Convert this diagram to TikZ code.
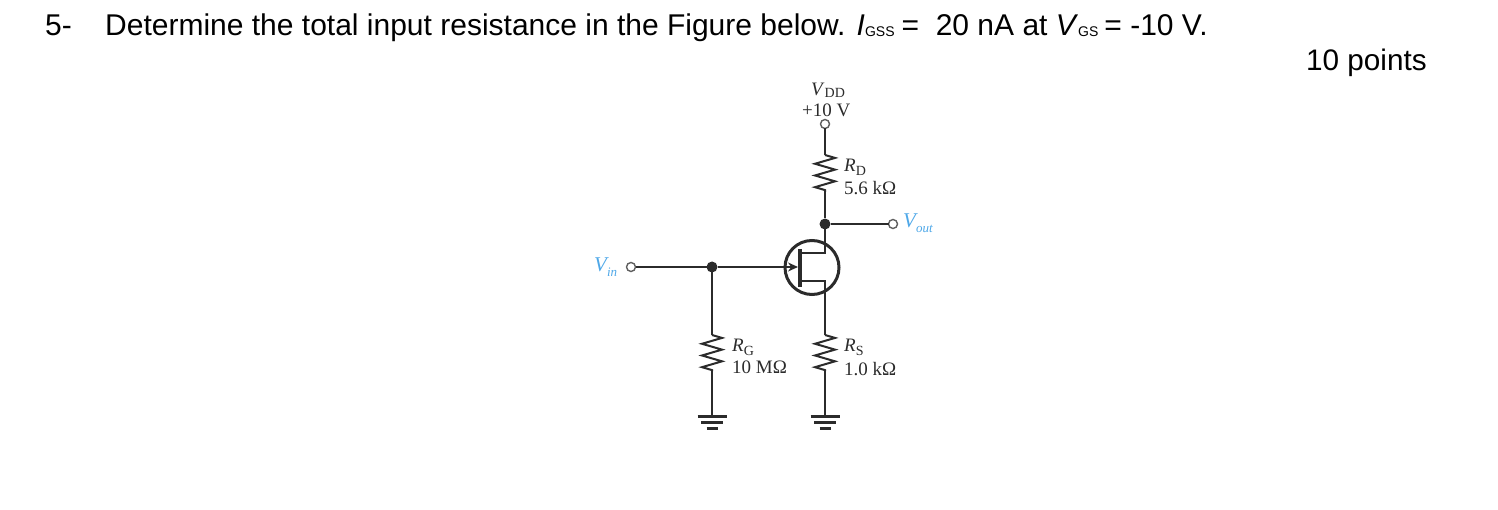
\documentclass[tikz,border=0pt]{standalone}
\usepackage{fontspec}
\setmainfont{Liberation Sans}
\newfontfamily\serifcirc{Liberation Serif}
\usetikzlibrary{arrows.meta,decorations.pathmorphing}
\definecolor{wirecol}{HTML}{2B2B2B}
\definecolor{voltblue}{HTML}{4FA8E8}
\tikzset{
  wire/.style={wirecol, line width=1.4pt},
  res/.style={wirecol, line width=2pt, decorate, decoration={zigzag,amplitude=10pt,segment length=11.7pt}},
  term/.style={circle, draw=wirecol!75, line width=1.4pt, fill=white, inner sep=0pt, outer sep=0pt, minimum size=9pt},
  junc/.style={circle, fill=wirecol, inner sep=0pt, outer sep=0pt, minimum size=11pt},
  title/.style={anchor=base west, inner sep=0pt, font=\fontsize{30}{32}\selectfont, text=black},
  lab/.style={anchor=base west, inner sep=0pt, font=\serifcirc\fontsize{19}{20}\selectfont, text=wirecol},
  vlab/.style={anchor=base west, inner sep=0pt, font=\serifcirc\itshape\fontsize{21}{20}\selectfont, text=voltblue}
}
\newcommand{\gnd}[1]{%
  \draw[wirecol, line width=3pt] (#1)+(-14.5,0)--+(14.5,0);
  \draw[wirecol, line width=3pt] (#1)+(-11,6)--+(11,6);
  \draw[wirecol, line width=3pt] (#1)+(-5.5,12)--+(5.5,12);
}
\newcommand{\qsub}[1]{\raisebox{-1pt}{\fontsize{14}{14}\selectfont #1}}
\newcommand{\lsub}[1]{\raisebox{-4pt}{\fontsize{14}{14}\selectfont #1}}
\newcommand{\vsub}[1]{\raisebox{-5pt}{\fontsize{13}{13}\selectfont #1}}
\begin{document}
\begin{tikzpicture}[x=1pt,y=-1pt]
\useasboundingbox (0,0) rectangle (1498,510);
% question text
\node[title] (qnum) at (45,36) {5-};
\node[title] (qtext) at (105,36) {Determine the total input resistance in the Figure below. \textit{I}\qsub{GSS}\kern7pt=\ \ 20 nA at \textit{V}\qsub{GS}\kern6pt= -10 V.};
\node[title,font=\fontsize{29.7}{32}\selectfont] (pts) at (1306,71) {10 points};
% points of the circuit
\node[term] (vdd) at (825,124) {};
\coordinate (rdtop) at (825,155);
\coordinate (rdbot) at (825,192);
\node[junc] (jd) at (825,224) {};
\node[term] (vout) at (893,224) {};
\node[term] (vin) at (631,267) {};
\node[junc] (jg) at (712,267) {};
\node[circle, draw=wirecol, line width=3pt, inner sep=0pt, minimum size=54pt] (jfet) at (812,267.5) {};
\coordinate (gate) at (800,267);
\coordinate (drn) at (800,253);
\coordinate (drnc) at (825,253);
\coordinate (src) at (800,281);
\coordinate (srcc) at (825,281);
\coordinate (rstop) at (825,335);
\coordinate (rsbot) at (825,371);
\coordinate (rgtop) at (712,335);
\coordinate (rgbot) at (712,371);
\coordinate (gs) at (825,416);
\coordinate (gg) at (712,416);
% wires
\draw[wire] (vdd)--(rdtop);
\draw[res] (rdtop)--(rdbot);
\draw[wire] (rdbot)--(jd);
\draw[wire] (jd)--(vout);
\draw[wire] (jd)--(drnc)--(drn);
\draw[wire] (src)--(srcc)--(rstop);
\draw[res] (rstop)--(rsbot);
\draw[wire] (rsbot)--(gs);
\draw[wire] (vin)--(jg);
\draw[wire] (jg)--(rgtop);
\draw[res] (rgtop)--(rgbot);
\draw[wire] (rgbot)--(gg);
\draw[wire,-{Stealth[length=10pt,width=9pt]}] (jg)--(798,267);
\draw[wirecol, line width=4.5pt] (800,249)--(800,287);
\gnd{gs}
\gnd{gg}
% labels
\node[lab] (vddl) at (811,95.5) {\textit{V}\raisebox{-2pt}{\fontsize{14}{14}\selectfont DD}};
\node[lab] (vddv) at (802,116.5) {+10 V};
\node[lab] (rdl) at (844,172) {\textit{R}\lsub{D}};
\node[lab] (rdv) at (844,195) {5.6 kΩ};
\node[lab] (rgl) at (732,351) {\textit{R}\lsub{G}};
\node[lab] (rgv) at (732,373.5) {10 MΩ};
\node[lab] (rsl) at (844,351) {\textit{R}\lsub{S}};
\node[lab] (rsv) at (844,375) {1.0 kΩ};
\node[vlab] (voutl) at (903,228) {V\vsub{out}};
\node[vlab] (vinl) at (594,272) {V\vsub{in}};
\end{tikzpicture}
\end{document}
